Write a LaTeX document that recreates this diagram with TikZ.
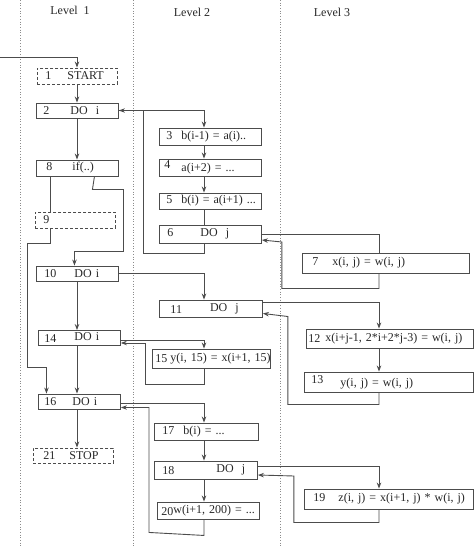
\documentclass[tikz,border=0pt]{standalone}
\usepackage{fontspec}
\setmainfont{Liberation Serif}
\usetikzlibrary{arrows.meta}

\begin{document}
\begin{tikzpicture}[x=1pt, y=-1pt,
        every node/.style={font=\fontsize{12}{14}\selectfont, text=black!85},
        stmt/.style={draw=black!70, line width=0.9pt, inner xsep=0pt, inner ysep=0pt, align=left, anchor=west, text width=#1, minimum height=16pt},
        hollow/.style={stmt=#1, dash pattern=on 3pt off 2pt},
        link/.style={draw=black!70, line width=0.9pt},
        flow/.style={link, -{Stealth[length=6pt, width=4.5pt, inset=2pt]}},
        lane/.style={black!45, dotted, line width=0.7pt}]
    \useasboundingbox (0,0) rectangle (474,548);

    % level separators
    \foreach \x in {20,133,280}
        \draw[lane] (\x,0) -- (\x,548);

    \node (lv1) at (70,10) {Level\ \ 1};
    \node (lv2) at (192,12) {Level 2};
    \node (lv3) at (332,12) {Level 3};

    \coordinate (entry) at (0,57);
    \coordinate (s1) at (77,0);
    \coordinate (s2) at (204,0);
    \coordinate (s3) at (379,0);

    % level 1
    \node[hollow=80pt] (n1) at (37,76) {\hspace*{8pt}1\hspace{16pt}START};
    \node[stmt=82pt, minimum height=15pt] (n2) at (36,110.5) {\hspace*{7pt}2\hspace{21pt}DO\ \ i};
    \node[stmt=82pt] (n8) at (36,168) {\hspace*{10pt}8\hspace{20pt}if(..)};
    \node[hollow=80pt] (n9) at (35,220) {\hspace*{8pt}9};
    \node[stmt=82pt, minimum height=15pt] (n10) at (36,273.5) {\hspace*{8pt}10\hspace{18pt}DO i};
    \node[stmt=82pt, minimum height=15pt] (n14) at (38,338) {\hspace*{6pt}\raisebox{-2pt}{14}\hspace{18pt}DO i};
    \node[stmt=82pt, minimum height=15pt] (n16) at (38,401.5) {\hspace*{6pt}16\hspace{16pt}DO i};
    \node[hollow=80pt, minimum height=15pt] (n21) at (33,455.5) {\hspace*{10pt}21\hspace{14pt}STOP};

    % level 2
    \node[stmt=102pt, minimum height=17pt] (n3) at (159,136.5) {\hspace*{7pt}3\hspace{9pt}b(i-1) = a(i)..};
    \node[stmt=102pt, minimum height=17pt] (n4) at (159,167.5) {\hspace*{5pt}\raisebox{3pt}{4}\hspace{11pt}a(i+2) = ...};
    \node[stmt=102pt] (n5) at (159,201) {\hspace*{7pt}5\hspace{9pt}b(i) = a(i+1) ...};
    \node[stmt=102pt, minimum height=18pt] (n6) at (159,234) {\hspace*{8pt}6\hspace{27pt}DO\ \ j};
    \node[stmt=103pt, minimum height=17pt] (n11) at (159,308.5) {\hspace*{11pt}\raisebox{-2pt}{11}\hspace{28pt}DO\ \ j};
    \node[stmt=118pt, minimum height=19pt] (n15) at (152,358.5) {\hspace*{3pt}\mbox{\raisebox{-1pt}{15}\hspace{3pt}y(i, 15) = x(i+1, 15)}};
    \node[stmt=104pt, minimum height=17pt] (n17) at (154,431.5) {\hspace*{8pt}17\hspace{9pt}b(i) = ...};
    \node[stmt=103pt, minimum height=18pt] (n18) at (154,470) {\hspace*{8pt}\raisebox{-2pt}{18}\hspace{42pt}DO\ \ j};
    \node[stmt=102pt, minimum height=17pt] (n20) at (157,510.5) {\hspace*{4pt}\mbox{\raisebox{-2pt}{20}w(i+1, 200) = ...}};

    % level 3
    \node[stmt=167pt, minimum height=20pt] (n7) at (302,263) {\hspace*{10pt}7\hspace{14pt}x(i, j) = w(i, j)};
    \node[stmt=167pt, minimum height=19pt] (n12) at (306,338.5) {\hspace*{2pt}\mbox{\raisebox{-1pt}{12}\hspace{5pt}x(i+j-1, 2*i+2*j-3) = w(i, j)}};
    \node[stmt=169pt, minimum height=20pt] (n13) at (304,382) {\hspace*{7pt}\raisebox{3pt}{13}\hspace{17pt}y(i, j) = w(i, j)};
    \node[stmt=169pt, minimum height=20pt] (n19) at (304,499) {\hspace*{9pt}19\hspace{13pt}z(i, j) = x(i+1, j) * w(i, j)};

    % level 1 flow
    \draw[flow] (entry) -| (n1.north -| s1);
    \draw[flow] (n1.south -| s1) -- (n2.north -| s1);
    \draw[flow] (n2.south -| s1) -- (n8.north -| s1);
    \draw[link] ([xshift=-27pt]n8.south) -- ([xshift=-27pt]n8.south |- n9.north);
    \draw[flow] ([xshift=17pt]n8.south) -- ++(-2,13) -- ++(31,0) -- ++(0,62) -| ([xshift=-3pt]n10.north);
    \draw[flow] ([xshift=-25pt]n9.south) -- ++(0,15) -- ++(-23,0) -- ++(0,124) -| ([xshift=-33pt]n16.north);
    \draw[flow] (n10.south -| s1) -- (n14.north -| s1);
    \draw[flow] (n14.south -| s1) -- (n16.north -| s1);
    \draw[flow] (n16.south -| s1) -- (n21.north -| s1);

    % loop 2
    \draw[flow] (n2.east) -| (n3.north -| s2);
    \draw[flow] (n3.south -| s2) -- (n4.north -| s2);
    \draw[flow] (n4.south -| s2) -- (n5.north -| s2);
    \draw[link] (n5.south -| s2) -- (n6.north -| s2);
    \draw[flow] (n6.south -| s2) -- ++(0,10) -| ([xshift=25pt]n2.east) -- (n2.east);
    \draw[link] (n6.east) -| (n7.north -| s3);
    \draw[flow] (n7.south -| s3) -- ++(0,15) -| ([xshift=20pt,yshift=-8pt]n6.east) -- ([yshift=-6pt]n6.east);

    % loop 10
    \draw[flow] (n10.east) -| (n11.north -| s2);
    \draw[flow] ([yshift=6pt]n11.east) -| (n12.north -| s3);
    \draw[flow] (n12.south -| s3) -- (n13.north -| s3);
    \draw[flow] (n13.south -| s3) -- ++(0,12) -| ([xshift=25pt,yshift=-8pt]n11.east) -- ([yshift=-5pt]n11.east);

    % loop 14
    \draw[flow] ([yshift=-2pt]n14.east) -| (n15.north -| s2);
    \draw[flow] (n15.south -| s2) -- ++(0,16) -| ([xshift=25pt,yshift=-5pt]n14.east) -- ([yshift=-5pt]n14.east);

    % loop 16
    \draw[flow] ([yshift=-2pt]n16.east) -| (n17.north -| s2);
    \draw[flow] (n17.south -| s2) -- (n18.north -| s2);
    \draw[flow] (n18.south -| s2) -- (n20.north -| s2);
    \draw[flow] (n20.south -| s2) -- ++(0,16) -- ++(-55,-3) |- ([yshift=-6pt]n16.east);
    \draw[flow] ([yshift=4pt]n18.east) -| (n19.north -| s3);
    \draw[flow] (n19.south -| s3) -- ++(0,13) -| ([xshift=36pt,yshift=-6pt]n18.east) -- ([yshift=-5pt]n18.east);
\end{tikzpicture}
\end{document}
